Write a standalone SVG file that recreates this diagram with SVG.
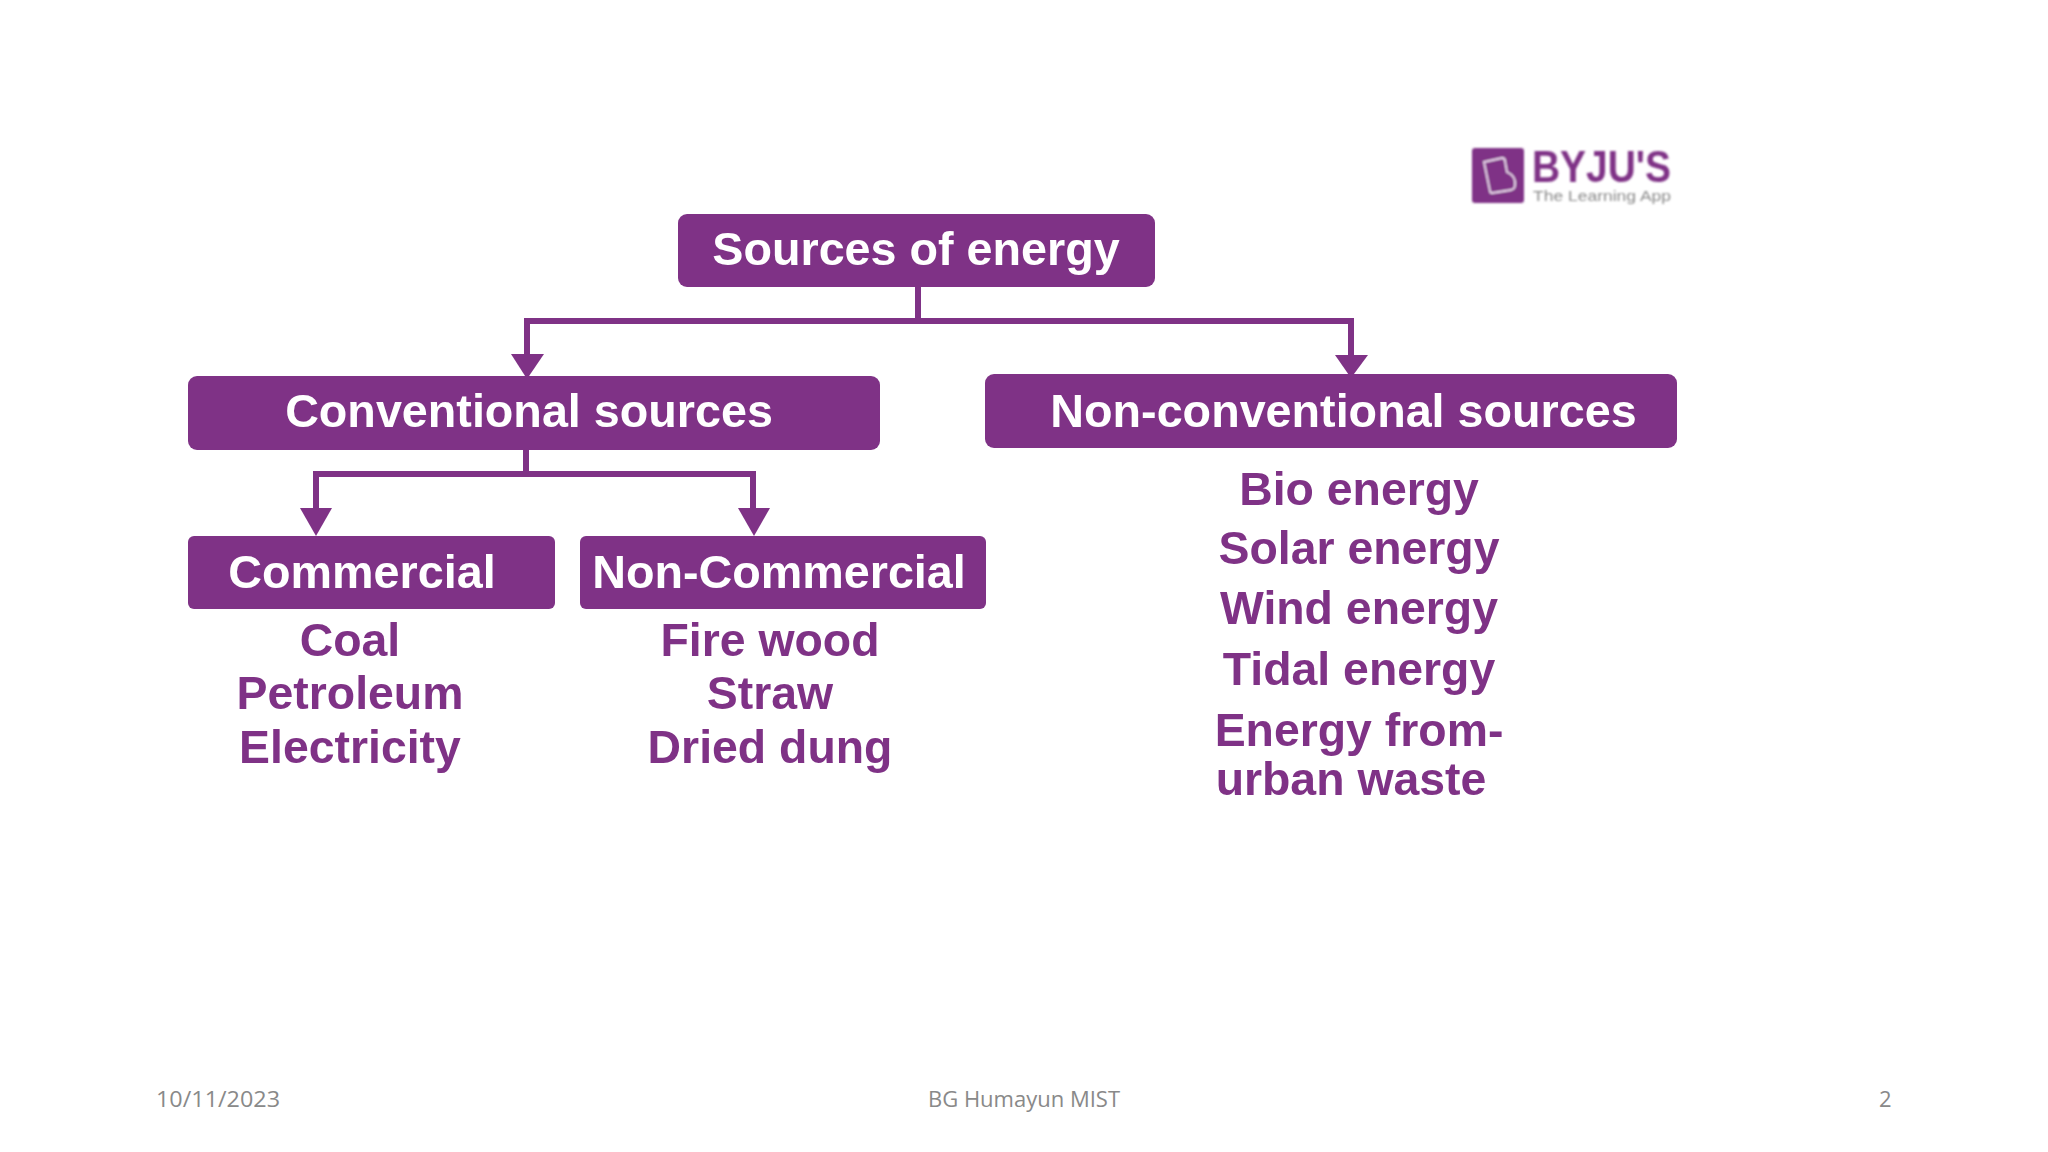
<svg xmlns="http://www.w3.org/2000/svg" width="2048" height="1152" viewBox="0 0 2048 1152">
<defs>
<style>
.box{fill:#7f3286}
.h{font-family:"Liberation Sans",Arial,sans-serif;font-weight:bold;fill:#fff;font-size:46.7px;text-anchor:middle}
.t{font-family:"Liberation Sans",Arial,sans-serif;font-weight:bold;fill:#7f3286;font-size:46.4px;text-anchor:middle}
.f{font-family:"Open Sans","Noto Sans",sans-serif;fill:#898989;font-size:22px}
.c{fill:none;stroke:#7f3286;stroke-width:6}
.a{fill:#7f3286}
</style>
<filter id="soft" x="-2%" y="-2%" width="104%" height="104%"><feGaussianBlur stdDeviation="0.55"/></filter>
<filter id="softer" x="-5%" y="-5%" width="110%" height="110%"><feGaussianBlur stdDeviation="0.8"/></filter>
</defs>
<rect width="2048" height="1152" fill="#fff"/>
<g id="connectors" filter="url(#soft)">
<path class="c" d="M918 287V321M527 356V321H1351V356"/>
<path class="c" d="M526 450V474M316 510V474H753V510"/>
<polygon class="a" points="511,354 544,354 527,379"/>
<polygon class="a" points="1335,355 1368,355 1351,378"/>
<polygon class="a" points="300,508 332,508 316,536"/>
<polygon class="a" points="738,508 770,508 754,536"/>
</g>
<g id="sources" filter="url(#soft)"><rect class="box" x="678" y="214" width="477" height="73" rx="9"/><text class="h" x="916" y="265">Sources of energy</text></g>
<g id="conventional" filter="url(#soft)"><rect class="box" x="188" y="376" width="692" height="74" rx="9"/><text class="h" x="529" y="427">Conventional sources</text></g>
<g id="nonconventional" filter="url(#soft)"><rect class="box" x="985" y="374" width="692" height="74" rx="9"/><text class="h" x="1343.500" y="427">Non-conventional sources</text></g>
<g id="commercial" filter="url(#soft)"><rect class="box" x="188" y="536" width="367" height="73" rx="6"/><text class="h" x="362" y="588">Commercial</text></g>
<g id="noncommercial" filter="url(#soft)"><rect class="box" x="580" y="536" width="406" height="73" rx="6"/><text class="h" x="779" y="588">Non-Commercial</text></g>
<g id="commercial-list" filter="url(#soft)">
<text class="t" x="350" y="656">Coal</text>
<text class="t" x="350" y="709">Petroleum</text>
<text class="t" x="350" y="763">Electricity</text>
</g>
<g id="noncommercial-list" filter="url(#soft)">
<text class="t" x="770" y="656">Fire wood</text>
<text class="t" x="770" y="709">Straw</text>
<text class="t" x="770" y="763">Dried dung</text>
</g>
<g id="nonconventional-list" filter="url(#soft)">
<text class="t" x="1359" y="505">Bio energy</text>
<text class="t" x="1359" y="564">Solar energy</text>
<text class="t" x="1359" y="624">Wind energy</text>
<text class="t" x="1359" y="685">Tidal energy</text>
<text class="t" x="1359" y="746">Energy from-</text>
<text class="t" x="1351" y="795">urban waste</text>
</g>
<g id="logo" filter="url(#softer)">
<rect x="1472" y="148" width="52" height="55" rx="3" fill="#7f3286"/>
<path d="M1484 162L1502 158Q1505 158 1505 161L1507 172Q1516 176 1515 185Q1515 189 1511 190L1492 193Q1490 193 1490 191Z" fill="none" stroke="#ecdcee" stroke-width="1.8"/>
<text x="1532" y="182" font-family="Liberation Sans,sans-serif" font-weight="bold" font-size="44" fill="#7f3286" textLength="139" lengthAdjust="spacingAndGlyphs">BYJU'S</text>
<text x="1533" y="201" font-family="Liberation Sans,sans-serif" font-size="15" fill="#8a8a8a" textLength="138" lengthAdjust="spacingAndGlyphs">The Learning App</text>
</g>
<g id="footer">
<text class="f" x="156" y="1107" textLength="124" lengthAdjust="spacingAndGlyphs">10/11/2023</text>
<text class="f" x="1024" y="1107" text-anchor="middle">BG Humayun MIST</text>
<text class="f" x="1879" y="1107">2</text>
</g>
</svg>
